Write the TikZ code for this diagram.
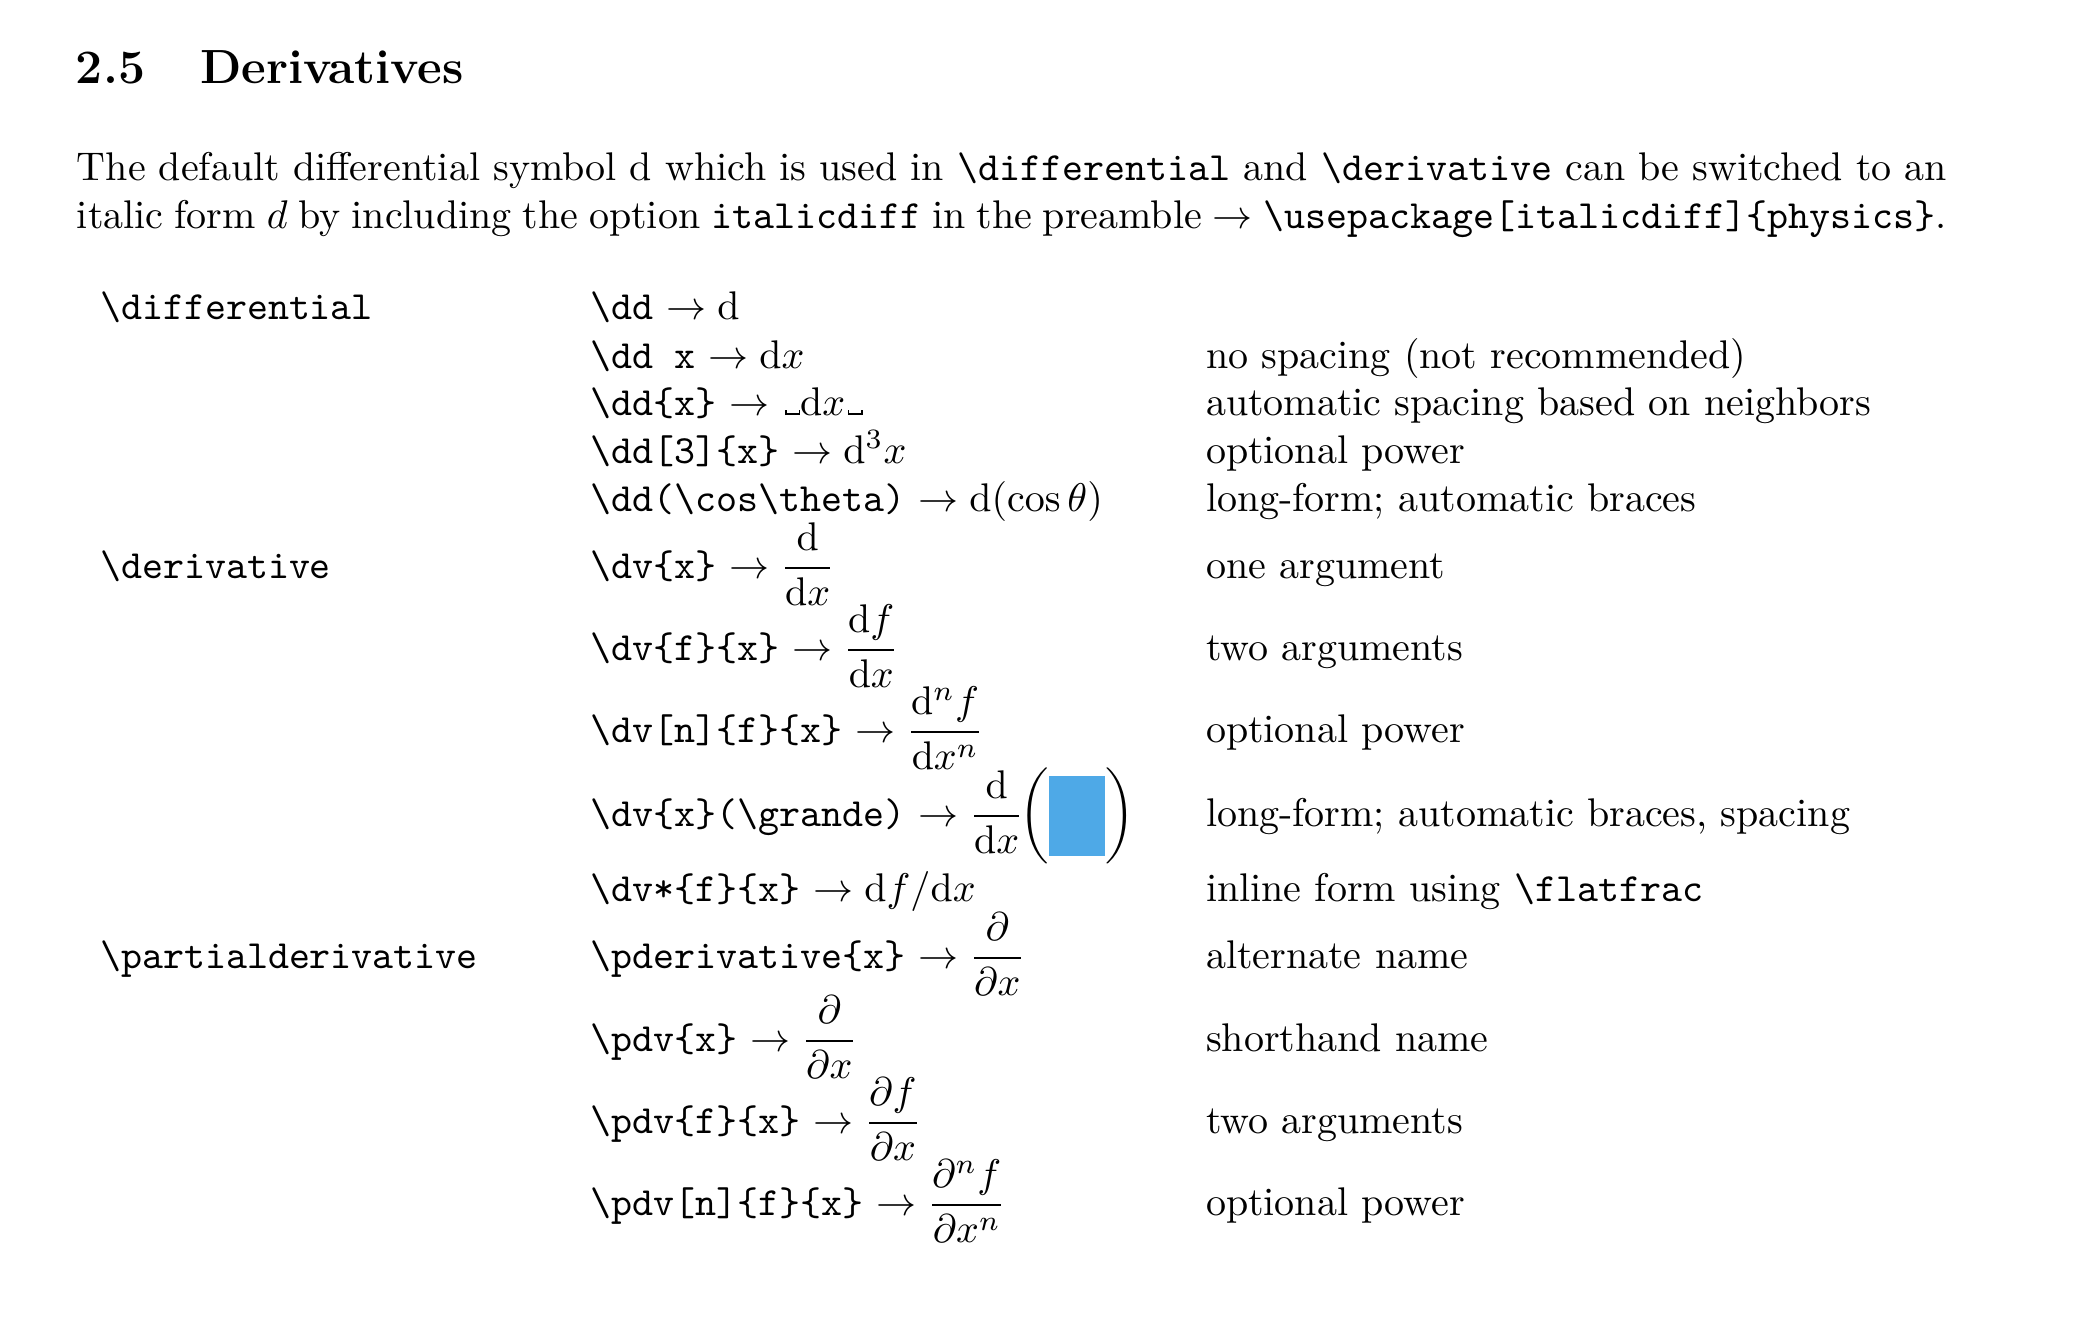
\documentclass[tikz,border=0pt]{standalone}
\usepackage{amsmath}
\usepackage{xcolor}
\definecolor{gblue}{RGB}{78,169,231}
\newcommand\myvspace{\mbox{\kern.06em\vrule height.3ex\vbox{\hrule width.3em}\hbox{\vrule height.3ex}}}
\newcommand\bs{\textbackslash}
\begin{document}
\begin{tikzpicture}[x=0.25pt,y=-0.25pt,
  txt/.style={anchor=base west, inner sep=0pt, outer sep=0pt}]
\useasboundingbox (0,0) rectangle (2100,1318);
% heading
\node[txt] (secnum) at (76,83) {\large\bfseries 2.5};
\node[txt] (sectitle) at (200,83) {\large\bfseries Derivatives};
% paragraph
\node[txt] (para1) at (77,180) {\makebox[467.5pt][s]{The default differential symbol d which is used in \texttt{\bs differential} and \texttt{\bs derivative} can be switched to an}};
\node[txt] (para2) at (77,228) {\makebox[467.5pt][s]{italic form $d$ by including the option \texttt{italicdiff} in the preamble $\rightarrow$ \texttt{\bs usepackage[italicdiff]\{physics\}}.}};
% column 1
\node[txt] (c1a) at (100,319) {\texttt{\bs differential}};
\node[txt] (c1b) at (100,578) {\texttt{\bs derivative}};
\node[txt] (c1c) at (100,968) {\texttt{\bs partialderivative}};
% column 2
\node[txt] (e1) at (590,319) {\texttt{\bs dd} $\rightarrow \mathrm{d}$};
\node[txt] (e2) at (590,368) {\texttt{\bs dd x} $\rightarrow \mathrm{d}x$};
\node[txt] (e3) at (590,415) {\texttt{\bs dd\{x\}} $\rightarrow$ \myvspace$\mathrm{d}x$\myvspace};
\node[txt] (e4) at (590,463) {\texttt{\bs dd[3]\{x\}} $\rightarrow \mathrm{d}^3x$};
\node[txt] (e5) at (590,511) {\texttt{\bs dd(\bs cos\bs theta)} $\rightarrow \mathrm{d}(\cos\theta)$};
\node[txt] (e6) at (590,578) {\texttt{\bs dv\{x\}} $\rightarrow \dfrac{\mathrm{d}}{\mathrm{d}x}$};
\node[txt] (e7) at (590,660) {\texttt{\bs dv\{f\}\{x\}} $\rightarrow \dfrac{\mathrm{d}f}{\mathrm{d}x}$};
\node[txt] (e8) at (590,742) {\texttt{\bs dv[n]\{f\}\{x\}} $\rightarrow \dfrac{\mathrm{d}^n f}{\mathrm{d}x^n}$};
\node[txt] (e9) at (590,826) {\texttt{\bs dv\{x\}(\bs grande)} $\rightarrow \dfrac{\mathrm{d}}{\mathrm{d}x}\mkern-5mu\left(\vcenter{\hbox{\color{gblue}\rule{14pt}{20pt}}}\right)$};
\node[txt] (e10) at (590,901) {\texttt{\bs dv*\{f\}\{x\}} $\rightarrow \mathrm{d}f/\mathrm{d}x$};
\node[txt] (e11) at (590,968) {\texttt{\bs pderivative\{x\}} $\rightarrow \dfrac{\partial}{\partial x}$};
\node[txt] (e12) at (590,1051) {\texttt{\bs pdv\{x\}} $\rightarrow \dfrac{\partial}{\partial x}$};
\node[txt] (e13) at (590,1133) {\texttt{\bs pdv\{f\}\{x\}} $\rightarrow \dfrac{\partial f}{\partial x}$};
\node[txt] (e14) at (590,1215) {\texttt{\bs pdv[n]\{f\}\{x\}} $\rightarrow \dfrac{\partial^n f}{\partial x^n}$};
% column 3
\node[txt] (d2) at (1206,368) {no spacing (not recommended)};
\node[txt] (d3) at (1206,415) {automatic spacing based on neighbors};
\node[txt] (d4) at (1206,463) {optional power};
\node[txt] (d5) at (1206,511) {long-form; automatic braces};
\node[txt] (d6) at (1206,578) {one argument};
\node[txt] (d7) at (1206,660) {two arguments};
\node[txt] (d8) at (1206,742) {optional power};
\node[txt] (d9) at (1206,826) {long-form; automatic braces, spacing};
\node[txt] (d10) at (1206,901) {inline form using \texttt{\bs flatfrac}};
\node[txt] (d11) at (1206,968) {alternate name};
\node[txt] (d12) at (1206,1051) {shorthand name};
\node[txt] (d13) at (1206,1133) {two arguments};
\node[txt] (d14) at (1206,1215) {optional power};
\end{tikzpicture}
\end{document}
